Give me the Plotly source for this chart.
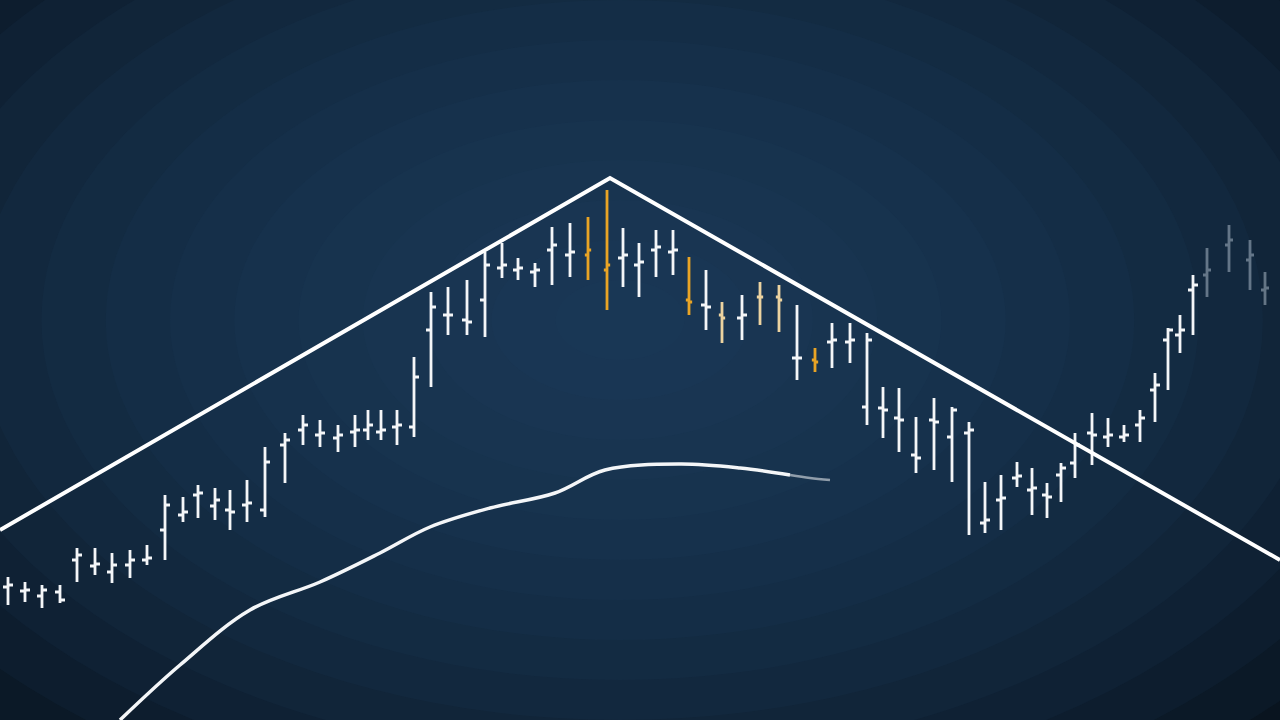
import plotly.graph_objects as go

# Bars: x position, high, low, open, close (price units)
bar_x = [8, 25, 42, 60, 77, 95, 112, 130, 147, 165, 183, 198, 215, 230, 247, 265, 285, 303, 320, 338,
         355, 368, 381, 397, 414, 431, 448, 467, 485, 502, 518, 535, 552, 570, 588, 607, 623, 639, 656, 673,
         689, 706, 722, 742, 760, 779, 797, 815, 832, 850, 867, 883, 899, 916, 934, 952, 969, 985, 1001, 1017,
         1032, 1047, 1061, 1075, 1092, 1108, 1124, 1140, 1155, 1168, 1180, 1193, 1207, 1229, 1250, 1265]
bar_high_px = [577, 582, 585, 585, 548, 548, 553, 550, 545, 495, 497, 485, 488, 490, 480, 447, 433, 415, 420, 425,
               415, 410, 410, 410, 357, 292, 287, 280, 252, 243, 258, 263, 227, 223, 217, 190, 228, 243, 230, 230,
               257, 270, 302, 295, 282, 285, 305, 348, 323, 323, 333, 387, 388, 417, 398, 407, 422, 482, 475, 462,
               468, 483, 463, 433, 413, 418, 425, 410, 373, 328, 315, 275, 248, 225, 240, 272]
bar_low_px = [605, 602, 608, 603, 582, 575, 583, 578, 565, 560, 522, 518, 520, 530, 522, 517, 483, 445, 447, 452,
              447, 440, 440, 445, 437, 387, 335, 335, 337, 278, 280, 287, 285, 277, 280, 310, 287, 297, 277, 275,
              315, 330, 343, 340, 325, 332, 380, 372, 368, 363, 425, 438, 452, 473, 470, 482, 535, 533, 530, 487,
              515, 518, 502, 478, 465, 447, 442, 442, 422, 390, 353, 335, 297, 272, 290, 305]
bar_open_px = [587, 591, 596, 592, 560, 566, 572, 565, 560, 530, 515, 495, 506, 510, 505, 510, 445, 430, 435, 438,
               432, 430, 432, 427, 427, 330, 315, 320, 300, 268, 270, 272, 250, 255, 255, 270, 258, 265, 250, 252,
               300, 305, 315, 318, 297, 297, 358, 360, 342, 342, 407, 408, 418, 455, 420, 437, 433, 523, 500, 478,
               490, 495, 475, 463, 433, 437, 437, 425, 390, 340, 335, 290, 275, 245, 260, 290]
bar_close_px = [585, 590, 590, 600, 555, 564, 565, 560, 558, 505, 512, 493, 500, 512, 503, 462, 440, 425, 433, 435,
                430, 425, 430, 425, 377, 307, 315, 322, 265, 265, 268, 270, 245, 252, 250, 265, 255, 262, 247, 250,
                302, 307, 318, 315, 297, 300, 358, 362, 340, 340, 340, 410, 420, 458, 422, 410, 430, 520, 498, 476,
                488, 497, 468, 445, 435, 435, 435, 418, 385, 330, 330, 285, 270, 240, 255, 288]
# colour group per bar: w = white, o = orange, p = pale orange, f = faded
bar_group = list("wwwwwwwwwwwwwwwwwwwwwwwwwwwwwwwwwwoowwwwowpwppwowwwwwwwwwwwwwwwwwwwwwwwwffff")

# Trend lines (x, price in px)
trend_x = [0, 610, 1280]
trend_y_px = [530, 178, 560]

# Moving-average curve
ma_x = [120, 180, 250, 320, 380, 430, 490, 555, 605, 680, 740, 790]
ma_y_px = [720, 665, 610, 582, 553, 527, 508, 493, 470, 464, 468, 475]
ma_tail_x = [790, 810, 830]
ma_tail_y_px = [475, 478, 480]

H = 720
def price(lst):
    return [H - v for v in lst]

fig = go.Figure()

colors = {"w": ("#f4f6f8", 1.0), "o": ("#e9a425", 1.0), "p": ("#ecd3a0", 1.0), "f": ("#c9d6e2", 0.45)}
for g, (col, op) in colors.items():
    idx = [i for i, gg in enumerate(bar_group) if gg == g]
    if not idx:
        continue
    xs = [bar_x[i] for i in idx]
    diffs = [b - a for a, b in zip(xs[:-1], xs[1:])]
    md = min(diffs) if diffs else 20
    tw = min(0.5, 5.0 / md)
    fig.add_trace(go.Ohlc(
        x=xs,
        open=price([bar_open_px[i] for i in idx]),
        high=price([bar_high_px[i] for i in idx]),
        low=price([bar_low_px[i] for i in idx]),
        close=price([bar_close_px[i] for i in idx]),
        increasing=dict(line=dict(color=col, width=2.8)),
        decreasing=dict(line=dict(color=col, width=2.8)),
        tickwidth=tw, opacity=op, hoverinfo="skip", showlegend=False))

fig.add_trace(go.Scatter(x=trend_x, y=price(trend_y_px), mode="lines",
                         line=dict(color="#ffffff", width=4), hoverinfo="skip", showlegend=False))
fig.add_trace(go.Scatter(x=ma_x, y=price(ma_y_px), mode="lines",
                         line=dict(color="#f4f6f8", width=3.5, shape="spline"), hoverinfo="skip", showlegend=False))
fig.add_trace(go.Scatter(x=ma_tail_x, y=price(ma_tail_y_px), mode="lines", opacity=0.55,
                         line=dict(color="#f4f6f8", width=2.5, shape="spline"), hoverinfo="skip", showlegend=False))

# radial-ish background glow
shapes = []
n = 14
for k in range(n):
    f = 1 - k / n
    rx = 900 * f
    ry = 560 * f
    cx, cy = 620, 400
    shapes.append(dict(type="circle", xref="x", yref="y", layer="below",
                       x0=cx - rx, x1=cx + rx, y0=cy - ry, y1=cy + ry,
                       fillcolor="rgba(36,68,102,0.12)", line=dict(width=0)))

fig.update_layout(
    width=1280, height=720,
    margin=dict(l=0, r=0, t=0, b=0),
    paper_bgcolor="#09141f", plot_bgcolor="#09141f",
    xaxis=dict(range=[0, 1280], visible=False, rangeslider=dict(visible=False), fixedrange=True),
    yaxis=dict(range=[0, 720], visible=False, fixedrange=True),
    shapes=shapes, showlegend=False,
)

fig.write_html("out.html", config={"displayModeBar": False},
               post_script="document.body.style.margin='0';document.body.style.overflow='hidden';document.body.style.background='#09141f';")
